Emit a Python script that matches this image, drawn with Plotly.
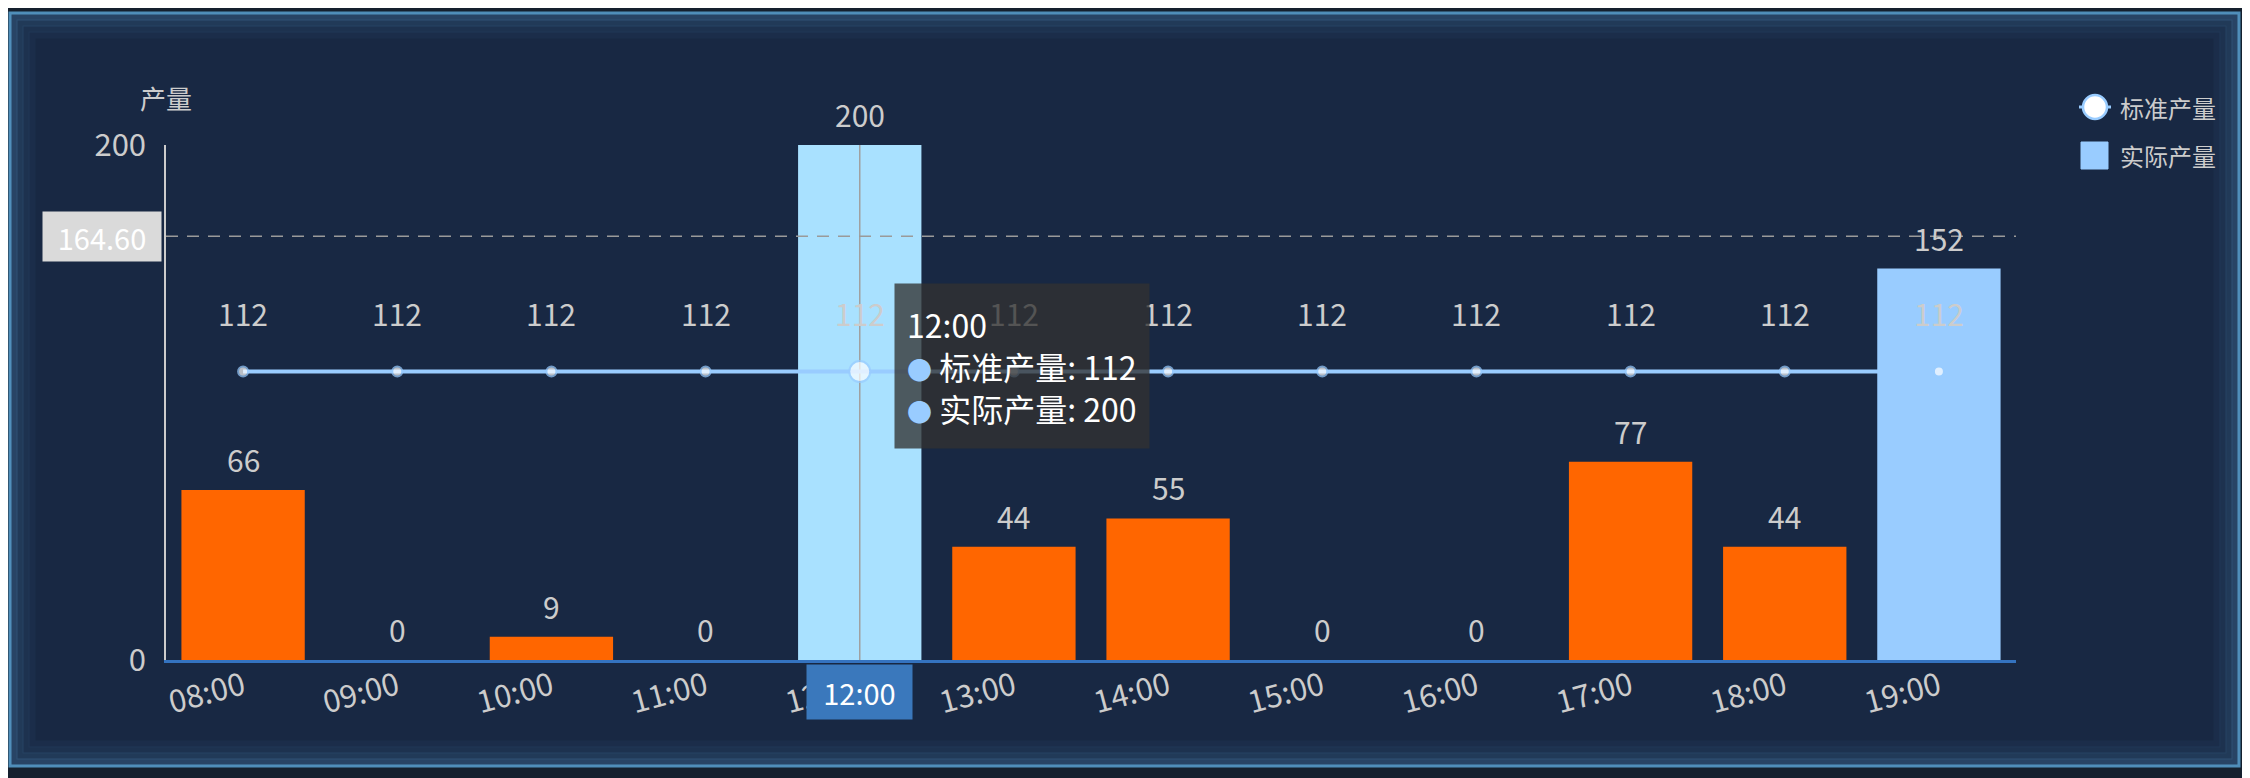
import plotly.graph_objects as go

# ---------------- data ----------------
categories = ["08:00", "09:00", "10:00", "11:00", "12:00", "13:00",
              "14:00", "15:00", "16:00", "17:00", "18:00", "19:00"]
actual_output = [66, 0, 9, 0, 200, 44, 55, 0, 0, 77, 44, 152]
standard_output = [112, 112, 112, 112, 112, 112, 112, 112, 112, 112, 112, 112]
y_tick_values = [0, 200]
pointer_value = 164.60
hover_category = "12:00"
series_names = ["标准产量", "实际产量"]
y_axis_title = "产量"

# ---------------- geometry helpers ----------------
W, H = 2250, 778
OFF = 8                      # page body margin of the browser
PLOT_X0, PLOT_X1 = 166, 2016  # plot area in screenshot pixels
PLOT_Y0, PLOT_Y1 = 145, 660
PW, PH = PLOT_X1 - PLOT_X0, PLOT_Y1 - PLOT_Y0
L, T = PLOT_X0 - OFF, PLOT_Y0 - OFF
R, B = W - L - PW, H - T - PH


def px(x):
    return (x - PLOT_X0) / PW


def py(y):
    return (PLOT_Y1 - y) / PH


FONT = "Noto Sans CJK SC, Noto Sans, sans-serif"
LABEL = "#CCCCCC"
BLUE = "#99CCFF"
ORANGE = "#FF6600"
HOVER_BLUE = "#A9E1FF"

hi = categories.index(hover_category)

bar_colors = []
for c, a, s in zip(categories, actual_output, standard_output):
    if c == hover_category:
        bar_colors.append(HOVER_BLUE)
    elif a > s:
        bar_colors.append(BLUE)
    else:
        bar_colors.append(ORANGE)

marker_sizes = [21 if c == hover_category else 10 for c in categories]

fig = go.Figure()

fig.add_trace(go.Bar(
    x=categories, y=actual_output, name=series_names[1],
    marker=dict(color=bar_colors, line=dict(width=0)),
    hoverinfo="skip", showlegend=False,
))

# axis pointer (vertical line at hovered category)
fig.add_trace(go.Scatter(
    x=[hover_category, hover_category], y=[y_tick_values[0], y_tick_values[-1]],
    mode="lines", line=dict(color="#A0A0A0", width=1.5),
    hoverinfo="skip", showlegend=False,
))

fig.add_trace(go.Scatter(
    x=categories, y=standard_output, name=series_names[0],
    mode="lines+markers",
    line=dict(color=BLUE, width=4),
    marker=dict(size=marker_sizes, color="white", line=dict(color=BLUE, width=2)),
    hoverinfo="skip", showlegend=False,
))

shapes = []
# panel frame with glow
shapes.append(dict(type="rect", xref="paper", yref="paper", layer="below",
                   x0=px(10), x1=px(2239), y0=py(766), y1=py(13),
                   fillcolor="#182843", line=dict(color="#4F8DB8", width=3)))
for i, a in enumerate([0.24, 0.15, 0.09, 0.05]):
    d = 4 + i * 6
    shapes.append(dict(type="rect", xref="paper", yref="paper", layer="below",
                       x0=px(10 + d), x1=px(2239 - d), y0=py(766 - d), y1=py(13 + d),
                       fillcolor="rgba(0,0,0,0)",
                       line=dict(color=f"rgba(90,160,210,{a})", width=7)))
# horizontal pointer dashed line
shapes.append(dict(type="line", xref="paper", yref="y", x0=0, x1=1,
                   y0=pointer_value, y1=pointer_value, layer="above",
                   line=dict(color="#9A9A9A", width=1.5, dash="12px,9px")))
# legend symbols
shapes.append(dict(type="line", xref="paper", yref="paper",
                   x0=px(2079), x1=px(2111), y0=py(107), y1=py(107),
                   line=dict(color=BLUE, width=3)))
shapes.append(dict(type="circle", xref="paper", yref="paper",
                   x0=px(2083), x1=px(2107), y0=py(119), y1=py(95),
                   fillcolor="white", line=dict(color=BLUE, width=2.5)))
shapes.append(dict(type="rect", xref="paper", yref="paper",
                   x0=px(2081), x1=px(2108), y0=py(169), y1=py(142),
                   fillcolor=BLUE, line=dict(color=BLUE, width=1)))

annotations = []
annotations.append(dict(text=y_axis_title, xref="paper", yref="paper",
                        x=0, y=py(97), xanchor="center", yanchor="middle",
                        showarrow=False, font=dict(size=26, color=LABEL, family=FONT)))

for c, v in zip(categories, actual_output):
    annotations.append(dict(text=str(v), x=c, y=v, xref="x", yref="y",
                            xanchor="center", yanchor="bottom", yshift=7,
                            showarrow=False, font=dict(size=30, color=LABEL, family=FONT)))
for c, v in zip(categories, standard_output):
    annotations.append(dict(text=str(v), x=c, y=v, xref="x", yref="y",
                            xanchor="center", yanchor="bottom", yshift=35,
                            showarrow=False, font=dict(size=30, color=LABEL, family=FONT)))

# y pointer label
annotations.append(dict(text=f"{pointer_value:.2f}", xref="paper", yref="y",
                        x=0, y=pointer_value, xanchor="right", yanchor="middle",
                        xshift=-4, showarrow=False, bgcolor="#DADADA",
                        width=106, height=37, borderpad=6,
                        font=dict(size=29, color="white", family=FONT)))
# x pointer label
annotations.append(dict(text=hover_category, xref="x", yref="paper",
                        x=hover_category, y=0, xanchor="center", yanchor="top",
                        yshift=-4, showarrow=False, bgcolor="#3A78BC",
                        width=89, height=38, borderpad=8,
                        font=dict(size=29, color="white", family=FONT)))

# legend texts
for name, yy in zip(series_names, [107, 155]):
    annotations.append(dict(text=name, xref="paper", yref="paper",
                            x=px(2118), y=py(yy), xanchor="left", yanchor="middle",
                            showarrow=False, font=dict(size=24, color=LABEL, family=FONT)))

# tooltip
dot = f"<span style='color:{BLUE};font-size:25px'>●</span>"
tip = (f"{hover_category}<br>"
       f"{dot} {series_names[0]}: {standard_output[hi]}<br>"
       f"{dot} {series_names[1]}: {actual_output[hi]}")
annotations.append(dict(text=tip, xref="x", yref="y", x=hover_category,
                        y=standard_output[hi], xanchor="left", yanchor="middle",
                        xshift=34, yshift=6, align="left", valign="middle",
                        showarrow=False, height=140,
                        bgcolor="rgba(50,50,50,0.78)", borderpad=12,
                        font=dict(size=32, color="white", family=FONT)))

fig.update_layout(
    width=W, height=H,
    margin=dict(l=L, r=R, t=T, b=B, autoexpand=False),
    paper_bgcolor="#15202E", plot_bgcolor="rgba(0,0,0,0)",
    bargap=0.2, showlegend=False,
    font=dict(family=FONT, color=LABEL),
    shapes=shapes, annotations=annotations,
    xaxis=dict(type="category", categoryorder="array", categoryarray=categories,
               range=[-0.5, len(categories) - 0.5],
               showline=True, linecolor="#3473C0", linewidth=2.5,
               showgrid=False, ticks="", tickangle=-15,
               tickfont=dict(size=31, color=LABEL, family=FONT),
               automargin=False, ticklabelstandoff=-6),
    yaxis=dict(range=[y_tick_values[0], y_tick_values[-1]], tickvals=y_tick_values,
               showline=True, linecolor="#CCCCCC", linewidth=1.5,
               showgrid=True, gridcolor="#17396B", gridwidth=2, zeroline=False,
               ticks="", tickfont=dict(size=31, color=LABEL, family=FONT),
               automargin=False, ticklabelstandoff=12),
)

fig.write_html("out.html")
